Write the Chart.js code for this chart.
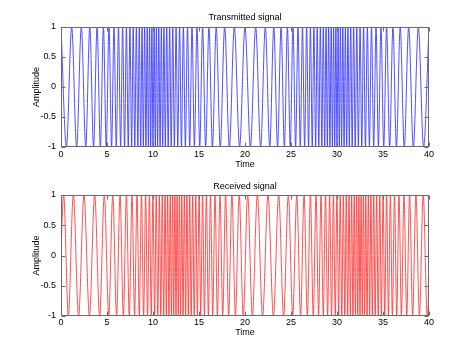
<!DOCTYPE html>
<html><head><meta charset="utf-8">
<script src="https://cdn.jsdelivr.net/npm/chart.js@4.4.1/dist/chart.umd.min.js"></script>
<style>
html,body{margin:0;padding:0;background:#fff;overflow:hidden;}
.w{position:absolute;left:0;width:474px;}
</style></head><body>
<div class="w" style="top:0;height:177px"><canvas id="c1" width="474" height="177"></canvas></div>
<div class="w" style="top:177px;height:178px"><canvas id="c2" width="474" height="178"></canvas></div>
<script>
// ---- data ----
const timeTicks = [0, 5, 10, 15, 20, 25, 30, 35, 40];
const ampTicks = [-1, -0.5, 0, 0.5, 1];
const peakLevel = 1;
const troughLevel = -1;

// times of the crests and troughs of the transmitted signal
const txPeakTimes = [0, 1.16, 2.21, 3.13, 3.92, 4.61, 5.22, 5.76, 6.25, 6.70, 7.11, 7.49, 7.85, 8.19, 8.51, 8.81, 9.09, 9.37, 9.63, 9.88, 10.12, 10.37, 10.63, 10.91, 11.19, 11.49, 11.81, 12.15, 12.51, 12.89, 13.30, 13.75, 14.24, 14.78, 15.39, 16.08, 16.87, 17.79, 18.84, 20.00,
  21.16, 22.21, 23.13, 23.92, 24.61, 25.22, 25.76, 26.25, 26.70, 27.11, 27.49, 27.85, 28.19, 28.51, 28.81, 29.09, 29.37, 29.63, 29.88, 30.12, 30.37, 30.63, 30.91, 31.19, 31.49, 31.81, 32.15, 32.51, 32.89, 33.30, 33.75, 34.24, 34.78, 35.39, 36.08, 36.87, 37.79, 38.84, 40.00];
const txTroughTimes = [0.59, 1.70, 2.69, 3.54, 4.28, 4.92, 5.50, 6.01, 6.48, 6.91, 7.31, 7.68, 8.02, 8.35, 8.66, 8.95, 9.23, 9.50, 9.75, 10.00, 10.25, 10.50, 10.77, 11.05, 11.34, 11.65, 11.98, 12.32, 12.69, 13.09, 13.52, 13.99, 14.50, 15.08, 15.72, 16.46, 17.31, 18.30, 19.41,
  20.59, 21.70, 22.69, 23.54, 24.28, 24.92, 25.50, 26.01, 26.48, 26.91, 27.31, 27.68, 28.02, 28.35, 28.66, 28.95, 29.23, 29.50, 29.75, 30.00, 30.25, 30.50, 30.77, 31.05, 31.34, 31.65, 31.98, 32.32, 32.69, 33.09, 33.52, 33.99, 34.50, 35.08, 35.72, 36.46, 37.31, 38.30, 39.41];

// times of the crests and troughs of the received signal
const rxPeakTimes = [0.29, 1.34, 2.50, 3.66, 4.71, 5.63, 6.42, 7.11, 7.72, 8.26, 8.75, 9.20, 9.61, 9.99, 10.35, 10.69, 11.01, 11.31, 11.59, 11.87, 12.13, 12.38, 12.62, 12.87, 13.13, 13.41, 13.69, 13.99, 14.31, 14.65, 15.01, 15.39, 15.80, 16.25, 16.74, 17.28, 17.89, 18.58, 19.37, 20.29, 21.34, 22.50,
  23.66, 24.71, 25.63, 26.42, 27.11, 27.72, 28.26, 28.75, 29.20, 29.61, 29.99, 30.35, 30.69, 31.01, 31.31, 31.59, 31.87, 32.13, 32.38, 32.62, 32.87, 33.13, 33.41, 33.69, 33.99, 34.31, 34.65, 35.01, 35.39, 35.80, 36.25, 36.74, 37.28, 37.89, 38.58, 39.37, 40.29];
const rxTroughTimes = [-0.19, 0.80, 1.91, 3.09, 4.20, 5.19, 6.04, 6.78, 7.42, 8.00, 8.51, 8.98, 9.41, 9.81, 10.18, 10.52, 10.85, 11.16, 11.45, 11.73, 12.00, 12.25, 12.50, 12.75, 13.00, 13.27, 13.55, 13.84, 14.15, 14.48, 14.82, 15.19, 15.59, 16.02, 16.49, 17.00, 17.58, 18.22, 18.96, 19.81, 20.80, 21.91,
  23.09, 24.20, 25.19, 26.04, 26.78, 27.42, 28.00, 28.51, 28.98, 29.41, 29.81, 30.18, 30.52, 30.85, 31.16, 31.45, 31.73, 32.00, 32.25, 32.50, 32.75, 33.00, 33.27, 33.55, 33.84, 34.15, 34.48, 34.82, 35.19, 35.59, 36.02, 36.49, 37.00, 37.58, 38.22, 38.96, 39.81];

function buildPoints(peaks, troughs) {
  const pts = peaks.map(t => ({x: t, y: peakLevel})).concat(troughs.map(t => ({x: t, y: troughLevel})));
  pts.sort((a, b) => a.x - b.x);
  return pts;
}

const FONT = {family: '"Liberation Sans", Arial, Helvetica, sans-serif', size: 9};

const framePlugin = {
  id: 'frame',
  afterDatasetsDraw(chart) {
    const {ctx, chartArea: a, scales: {x, y}} = chart;
    const l = Math.round(a.left) + 0.5, r = Math.round(a.right) - 0.5;
    const t = Math.round(a.top) + 0.5, b = Math.round(a.bottom) - 0.5;
    ctx.save();
    ctx.strokeStyle = '#6a6a6a';
    ctx.lineWidth = 1;
    ctx.strokeRect(l, t, r - l, b - t);
    ctx.beginPath();
    const L = 4;
    x.ticks.forEach(tk => {
      const px = Math.round(x.getPixelForValue(tk.value)) + 0.5;
      ctx.moveTo(px, b); ctx.lineTo(px, b - L);
      ctx.moveTo(px, t); ctx.lineTo(px, t + L);
    });
    y.ticks.forEach(tk => {
      const py = Math.round(y.getPixelForValue(tk.value)) + 0.5;
      ctx.moveTo(l, py); ctx.lineTo(l + L, py);
      ctx.moveTo(r, py); ctx.lineTo(r - L, py);
    });
    ctx.stroke();
    ctx.restore();
  }
};

function makeChart(id, points, color, titleText, g) {
  return new Chart(document.getElementById(id), {
    type: 'line',
    data: {datasets: [{
      data: points,
      borderColor: color,
      borderWidth: 0.9,
      pointRadius: 0,
      fill: false,
      cubicInterpolationMode: 'monotone'
    }]},
    options: {
      responsive: false,
      animation: false,
      devicePixelRatio: 1,
      layout: {padding: {left: 0, right: 45, top: 0, bottom: 0}},
      plugins: {legend: {display: false}, tooltip: {enabled: false}, title: {display: false}},
      scales: {
        x: {
          type: 'linear', position: 'bottom', min: 0, max: 40,
          afterBuildTicks: s => { s.ticks = timeTicks.map(v => ({value: v})); },
          afterFit: s => { s.height = g.xH; },
          grid: {display: false, drawTicks: false},
          border: {display: false},
          ticks: {font: FONT, color: '#000', padding: g.xTickPad, maxRotation: 0, autoSkip: false, callback: v => String(v)},
          title: {display: true, text: 'Time', font: FONT, color: '#000', padding: {top: 0, bottom: g.xTitlePad}}
        },
        xt: {
          type: 'linear', position: 'top', min: 0, max: 40,
          afterFit: s => { s.height = g.topH; },
          grid: {display: false, drawTicks: false},
          border: {display: false},
          ticks: {display: false},
          title: {display: true, text: titleText, font: FONT, color: '#000', padding: {top: g.titlePad, bottom: 0}}
        },
        y: {
          type: 'linear', position: 'left', min: -1, max: 1,
          afterBuildTicks: s => { s.ticks = ampTicks.map(v => ({value: v})); },
          afterFit: s => { s.width = 61; },
          grid: {display: false, drawTicks: false},
          border: {display: false},
          ticks: {font: FONT, color: '#000', padding: 5, autoSkip: false, callback: v => String(v)},
          title: {display: true, text: 'Amplitude', font: FONT, color: '#000', padding: {top: 31.6, bottom: 0}}
        }
      }
    },
    plugins: [framePlugin]
  });
}

makeChart('c1', buildPoints(txPeakTimes, txTroughTimes), 'rgb(60,60,255)', 'Transmitted signal',
  {topH: 27, titlePad: 12, xH: 30, xTickPad: 2.4, xTitlePad: 6.6});
makeChart('c2', buildPoints(rxPeakTimes, rxTroughTimes), 'rgb(255,60,60)', 'Received signal',
  {topH: 18, titlePad: 3.8, xH: 39, xTickPad: 1.6, xTitlePad: 16.6});
</script>
</body></html>
